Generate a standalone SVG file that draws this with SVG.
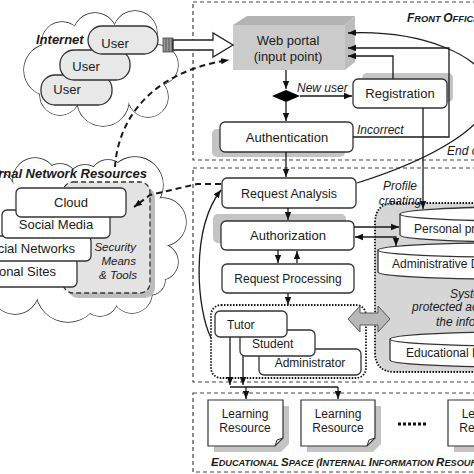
<svg xmlns="http://www.w3.org/2000/svg" width="474" height="474" viewBox="0 0 474 474">
<defs>
<style>
.t{font-family:"Liberation Sans",Arial,sans-serif;fill:#1a1a1a}
.i{font-style:italic}
.b{font-weight:bold}
.box{fill:#fff;stroke:#333;stroke-width:1.3}
.sh{fill:#c4c4c4}
.ln{fill:none;stroke:#1a1a1a;stroke-width:1.3}
.dash{fill:none;stroke:#1a1a1a;stroke-width:2;stroke-dasharray:6,4}
.bound{fill:none;stroke:#444;stroke-width:1.2;stroke-dasharray:4,3}
.cs{fill:none;stroke:#222;stroke-width:1.3}
.cf{fill:#fff;stroke:none}
</style>
<marker id="ah" viewBox="0 0 10 10" refX="10" refY="5" markerWidth="8" markerHeight="8" markerUnits="userSpaceOnUse" orient="auto-start-reverse"><path d="M0,1 L10,5 L0,9 z" fill="#111"/></marker>
</defs>
<rect width="474" height="474" fill="#fff"/>

<g id="boundaries">
<rect class="bound" x="193" y="2" width="300" height="158"/>
<rect class="bound" x="193" y="168" width="300" height="214"/>
<rect class="bound" x="193" y="393" width="300" height="79"/>
<text class="t b i" x="407" y="22" font-size="12"><tspan>F</tspan><tspan font-size="9.3">RONT </tspan><tspan>O</tspan><tspan font-size="9.3">FFICE</tspan></text>
<text class="t b i" x="211" y="466" font-size="11.5"><tspan>E</tspan><tspan font-size="9.2">DUCATIONAL </tspan><tspan>S</tspan><tspan font-size="9.2">PACE (</tspan><tspan>I</tspan><tspan font-size="9.2">NTERNAL </tspan><tspan>I</tspan><tspan font-size="9.2">NFORMATION </tspan><tspan>R</tspan><tspan font-size="9.2">ESOURCES)</tspan></text>
</g>

<g id="internet-cloud">
<g class="cs">
<circle cx="62" cy="42" r="20"/><circle cx="95" cy="35" r="22"/><circle cx="135" cy="33" r="22"/><circle cx="158" cy="65" r="20"/><circle cx="148" cy="97" r="20"/><circle cx="103" cy="100" r="26"/><circle cx="60" cy="95" r="20"/><circle cx="50" cy="70" r="26"/>
</g>
<g class="cf">
<circle cx="62" cy="42" r="20"/><circle cx="95" cy="35" r="22"/><circle cx="135" cy="33" r="22"/><circle cx="158" cy="65" r="20"/><circle cx="148" cy="97" r="20"/><circle cx="103" cy="100" r="26"/><circle cx="60" cy="95" r="20"/><circle cx="50" cy="70" r="26"/>
<polygon points="62,42 95,35 135,33 158,65 148,97 103,100 60,95 50,70"/>
</g>
<text class="t b i" x="36" y="44" font-size="13">Internet</text>
</g>

<g id="user3"><rect x="41" y="75" width="71" height="30" rx="14" fill="#e8e8e8" stroke="#333" stroke-width="1.3"/><text class="t" x="67" y="94" font-size="13" text-anchor="middle">User</text></g>
<g id="user2"><rect x="60" y="50" width="70" height="30" rx="14" fill="#e8e8e8" stroke="#333" stroke-width="1.3"/><text class="t" x="86" y="71" font-size="13" text-anchor="middle">User</text></g>
<g id="user1"><rect x="88" y="26" width="70" height="28" rx="14" fill="#e8e8e8" stroke="#333" stroke-width="1.3"/><text class="t" x="115" y="48" font-size="13" text-anchor="middle">User</text></g>

<g id="ext-cloud">
<g class="cs">
<circle cx="-10" cy="195" r="26"/><circle cx="35" cy="180" r="22"/><circle cx="60" cy="182" r="18"/><circle cx="85" cy="183" r="18"/><circle cx="108" cy="178" r="18"/><circle cx="135" cy="185" r="28"/><circle cx="162" cy="222" r="24"/><circle cx="160" cy="262" r="18"/><circle cx="150" cy="280" r="15"/><circle cx="132" cy="293" r="20"/><circle cx="100" cy="298" r="18"/><circle cx="68" cy="290" r="32"/><circle cx="15" cy="290" r="24"/><circle cx="-10" cy="250" r="30"/>
</g>
<g class="cf">
<circle cx="-10" cy="195" r="26"/><circle cx="35" cy="180" r="22"/><circle cx="60" cy="182" r="18"/><circle cx="85" cy="183" r="18"/><circle cx="108" cy="178" r="18"/><circle cx="135" cy="185" r="28"/><circle cx="162" cy="222" r="24"/><circle cx="160" cy="262" r="18"/><circle cx="150" cy="280" r="15"/><circle cx="132" cy="293" r="20"/><circle cx="100" cy="298" r="18"/><circle cx="68" cy="290" r="32"/><circle cx="15" cy="290" r="24"/><circle cx="-10" cy="250" r="30"/>
<polygon points="-10,195 35,180 60,182 85,183 108,178 135,185 162,222 160,262 150,280 132,293 100,298 68,290 15,290 -10,250"/>
</g>
<text class="t b i" x="147" y="178" font-size="13" text-anchor="end">External Network Resources</text>
</g>

<g id="security">
<rect x="68" y="187" width="87" height="111" rx="10" fill="#bdbdbd"/>
<rect x="63" y="182" width="87" height="111" rx="10" fill="#e3e3e3" stroke="#333" stroke-width="1.3" stroke-dasharray="5,3"/>
<text class="t i" font-size="11.5" text-anchor="end"><tspan x="136" y="251">Security</tspan><tspan x="136" y="265">Means</tspan><tspan x="137" y="279">&amp; Tools</tspan></text>
</g>

<g id="sites"><rect class="box" x="-40" y="258" width="117" height="29" rx="5"/><text class="t" x="56" y="276" font-size="13" text-anchor="end">Personal Sites</text></g>
<g id="social-networks"><rect class="box" x="-40" y="236" width="131" height="25" rx="5"/><text class="t" x="75" y="253" font-size="13" text-anchor="end">Social Networks</text></g>
<g id="social-media"><rect class="box" x="2" y="210" width="108" height="28" rx="5"/><text class="t" x="56" y="229" font-size="13" text-anchor="middle">Social Media</text></g>
<g id="cloud"><rect class="box" x="16" y="188" width="110" height="29" rx="5"/><text class="t" x="71" y="207" font-size="13" text-anchor="middle">Cloud</text></g>

<g id="web-portal">
<polygon points="233,25 247,16 355,16 345,25" fill="#b3b3b3"/>
<polygon points="345,25 355,16 355,62 345,70" fill="#bdbdbd"/>
<rect x="233" y="25" width="112" height="45" fill="#cbcbcb"/>
<text class="t" x="288" y="45" font-size="13" text-anchor="middle">Web portal</text>
<text class="t" x="288" y="61" font-size="13" text-anchor="middle">(input point)</text>
</g>

<g id="decision"><polygon points="272,96 286,90 300,96 286,102" fill="#000"/></g>

<g id="registration">
<rect class="sh" x="362" y="73" width="91" height="29" rx="5"/>
<rect class="box" x="353" y="79" width="94" height="29" rx="5"/>
<text class="t" x="400" y="98" font-size="13" text-anchor="middle">Registration</text>
</g>

<g id="authentication">
<rect class="sh" x="212" y="129" width="133" height="28" rx="5"/>
<rect class="box" x="220" y="122" width="133" height="30" rx="5"/>
<text class="t" x="287" y="142" font-size="13" text-anchor="middle">Authentication</text>
</g>

<g id="request-analysis">
<rect class="box" x="222" y="178" width="134" height="30" rx="5"/>
<text class="t" x="289" y="198" font-size="12.5" text-anchor="middle">Request Analysis</text>
</g>

<g id="authorization">
<rect class="sh" x="213" y="214" width="133" height="29" rx="5"/>
<rect class="box" x="221" y="221" width="133" height="29" rx="5"/>
<text class="t" x="288" y="240" font-size="13" text-anchor="middle">Authorization</text>
</g>

<g id="request-processing">
<rect class="box" x="222" y="264" width="132" height="29" rx="5"/>
<text class="t" x="288" y="283" font-size="12" text-anchor="middle">Request Processing</text>
</g>

<g id="protected-systems">
<path d="M500,203 H395 Q375,203 375,223 V352 Q375,372 395,372 H500 Z" fill="#d6d6d6" stroke="#111" stroke-width="1.8" stroke-dasharray="1.5,1.5"/>
<text class="t i" font-size="12"><tspan x="450" y="298">System of</tspan><tspan x="412" y="311">protected access to</tspan><tspan x="436" y="326">the information</tspan></text>
</g>

<g id="personal-profiles">
<path d="M400,214 V235 A120,7 0 0,0 640,235 V214" fill="#fff" stroke="#333" stroke-width="1.3"/>
<ellipse cx="520" cy="214" rx="120" ry="7" fill="#fff" stroke="#333" stroke-width="1.3"/>
<text class="t" x="414" y="233" font-size="12">Personal profiles</text>
</g>
<g id="administrative-data">
<path d="M378,250 V272 A120,7 0 0,0 618,272 V250" fill="#fff" stroke="#333" stroke-width="1.3"/>
<ellipse cx="498" cy="250" rx="120" ry="7" fill="#fff" stroke="#333" stroke-width="1.3"/>
<text class="t" x="392" y="268" font-size="12">Administrative Data</text>
</g>
<g id="educational-data">
<path d="M390,339 V360 A120,7 0 0,0 630,360 V339" fill="#fff" stroke="#333" stroke-width="1.3"/>
<ellipse cx="510" cy="339" rx="120" ry="7" fill="#fff" stroke="#333" stroke-width="1.3"/>
<text class="t" x="406" y="357" font-size="12">Educational Data</text>
</g>

<g id="roles">
<rect x="211" y="305" width="155" height="73" rx="10" fill="#fff" stroke="#111" stroke-width="1.8" stroke-dasharray="1.5,1.5"/>
</g>
<g id="administrator"><rect class="box" x="259" y="349" width="102" height="26" rx="5"/><text class="t" x="310" y="367" font-size="12" text-anchor="middle">Administrator</text></g>
<g id="student"><rect class="box" x="240" y="330" width="75" height="26" rx="5"/><text class="t" x="252" y="348" font-size="12">Student</text></g>
<g id="tutor"><rect class="box" x="215" y="311" width="72" height="26" rx="5"/><text class="t" x="227" y="329" font-size="12">Tutor</text></g>

<g id="exchange-arrow"><polygon points="348,319 360,306 360,313 378,313 378,306 390,319 378,332 378,325 360,325 360,332" fill="#b8b8b8" stroke="#555" stroke-width="1"/></g>

<g id="learning-resource-1">
<path d="M214,406 H289 V444 L281,452 H214 Z" fill="#c4c4c4"/>
<path d="M208,400 H283 V438 L275,446 H208 Z" fill="#fff" stroke="#333" stroke-width="1.2"/>
<path d="M275,446 L277,440 L283,438" fill="none" stroke="#333" stroke-width="1"/>
<text class="t" x="245" y="418" font-size="12" text-anchor="middle">Learning</text>
<text class="t" x="245" y="432" font-size="12" text-anchor="middle">Resource</text>
</g>
<g id="learning-resource-2">
<path d="M307,406 H381 V444 L373,452 H307 Z" fill="#c4c4c4"/>
<path d="M301,400 H375 V438 L367,446 H301 Z" fill="#fff" stroke="#333" stroke-width="1.2"/>
<path d="M367,446 L369,440 L375,438" fill="none" stroke="#333" stroke-width="1"/>
<text class="t" x="338" y="418" font-size="12" text-anchor="middle">Learning</text>
<text class="t" x="338" y="432" font-size="12" text-anchor="middle">Resource</text>
</g>
<g id="ellipsis"><line x1="398" y1="424" x2="428" y2="424" stroke="#111" stroke-width="3" stroke-dasharray="3,2"/></g>
<g id="learning-resource-3">
<path d="M454,406 H528 V452 H454 Z" fill="#c4c4c4"/>
<path d="M448,400 H522 V446 H448 Z" fill="#fff" stroke="#333" stroke-width="1.2"/>
<text class="t" x="485" y="418" font-size="12" text-anchor="middle">Learning</text>
<text class="t" x="485" y="432" font-size="12" text-anchor="middle">Resource</text>
</g>

<g id="user-link">
<rect x="163" y="38" width="10" height="14" fill="#9a9a9a" stroke="#444" stroke-width="0.8"/>
<path d="M166,38 V52 M169,38 V52 M172,38 V52" stroke="#444" stroke-width="0.8"/>
<polygon points="173,40 213,40 213,33 233,45 213,57 213,50 173,50" fill="#fff" stroke="#222" stroke-width="1.3"/>
</g>

<g id="connectors">
<path class="ln" d="M286,70 V89" marker-end="url(#ah)"/>
<path class="ln" d="M286,102 V121" marker-end="url(#ah)"/>
<path class="ln" d="M300,96 H352" marker-end="url(#ah)"/>
<path class="ln" d="M393,79 V56 H348" marker-end="url(#ah)"/>
<path class="ln" d="M353,137 H449 V48 H348" marker-end="url(#ah)"/>
<path class="ln" d="M357,183 C430,160 495,125 490,90 C486,55 420,30 348,33" marker-end="url(#ah)"/>
<path class="ln" d="M423,108 V209" marker-end="url(#ah)"/>
<path class="ln" d="M286,152 V177" marker-end="url(#ah)"/>
<path class="ln" d="M288,208 V220" marker-end="url(#ah)"/>
<path class="ln" d="M278,250 V263" marker-end="url(#ah)"/>
<path class="ln" d="M297,263 V251" marker-end="url(#ah)"/>
<path class="ln" d="M288,293 V305" marker-end="url(#ah)"/>
<path class="ln" d="M354,227 H399" marker-end="url(#ah)"/>
<path class="ln" d="M355,237 H396 V246" marker-start="url(#ah)" marker-end="url(#ah)"/>
<path class="ln" d="M211,338 C197,310 190,230 221,190" marker-end="url(#ah)"/>
<path class="ln" d="M230,337 V385" marker-end="url(#ah)"/>
<path class="ln" d="M243,356 V385" marker-end="url(#ah)"/>
<path class="ln" d="M230,387 H338"/>
<path class="ln" d="M246,387 V399" marker-end="url(#ah)"/>
<path class="ln" d="M338,387 V399" marker-end="url(#ah)"/>
<path class="dash" d="M115,167 C118,120 150,72 229,60" marker-end="url(#ah)"/>
<path class="dash" d="M221,184 H197 L150,195 L134,207" marker-end="url(#ah)"/>
<text class="t i" x="297" y="92" font-size="12">New user</text>
<text class="t i" x="357" y="134" font-size="12">Incorrect</text>
<text class="t i" x="447" y="155" font-size="12">End of session</text>
<text class="t i" x="400" y="190" font-size="12" text-anchor="middle">Profile</text>
<text class="t i" x="400" y="205" font-size="12" text-anchor="middle">creating</text>
</g>
</svg>
